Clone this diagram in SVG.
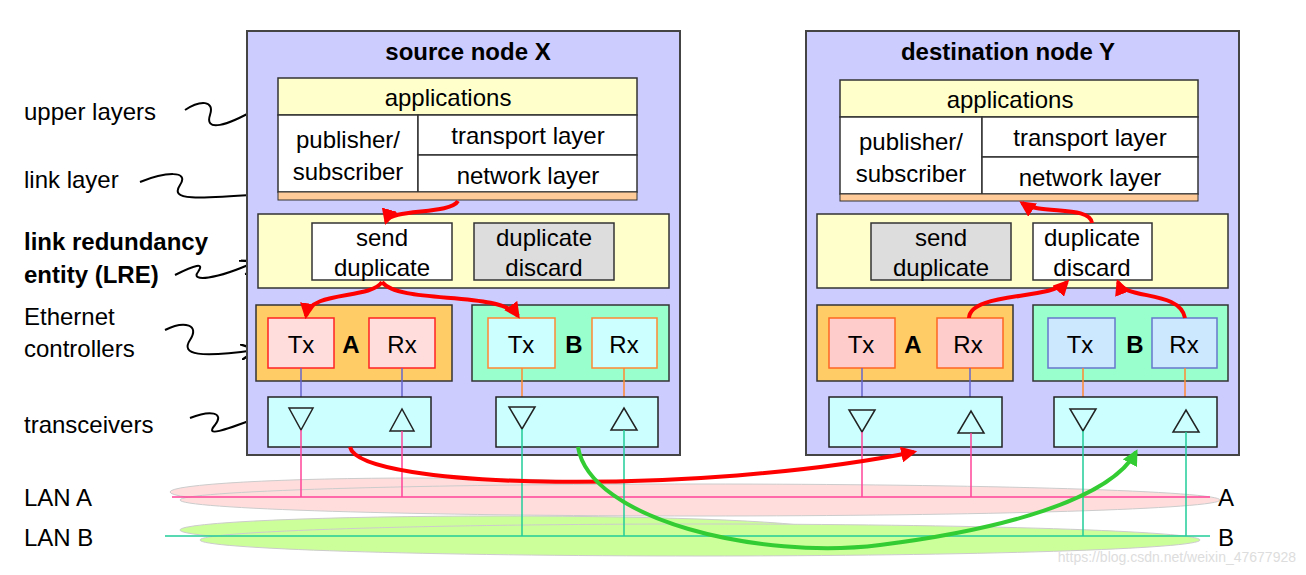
<svg xmlns="http://www.w3.org/2000/svg" width="1306" height="575" viewBox="0 0 1306 575">
<style>
text{font-family:"Liberation Sans",Arial,sans-serif;font-size:24px;fill:#000}
.c{text-anchor:middle}
.b{font-weight:bold}
.node{fill:#ccccff;stroke:#444;stroke-width:2}
.yel{fill:#ffffcc;stroke:#333;stroke-width:1.5}
.wh{fill:#fff;stroke:#333;stroke-width:1.5}
.gr{fill:#dddddd;stroke:#333;stroke-width:1.5}
.org{fill:#ffcc99;stroke:#333;stroke-width:1}
.ca{fill:#ffcc66;stroke:#333;stroke-width:1.5}
.cb{fill:#99ffcc;stroke:#333;stroke-width:1.5}
.tr{fill:#ccffff;stroke:#222;stroke-width:1.5}
.tri{fill:none;stroke:#222;stroke-width:1.5}
.red{fill:none;stroke:#ff0000;stroke-width:4}
.grn{fill:none;stroke:#33cc33;stroke-width:4}
.lbl{fill:none;stroke:#000;stroke-width:2}
</style>
<defs>
<marker id="ar" viewBox="0 0 10 10" refX="8" refY="5" markerWidth="4" markerHeight="4" orient="auto"><path d="M0,0 L10,5 L0,10 z" fill="#ff0000"/></marker>
<marker id="ag" viewBox="0 0 10 10" refX="8" refY="5" markerWidth="4" markerHeight="4" orient="auto"><path d="M0,0 L10,5 L0,10 z" fill="#33cc33"/></marker>
<marker id="ak" viewBox="0 0 10 10" refX="9" refY="5" markerWidth="8" markerHeight="8" orient="auto"><path d="M0,0 L10,5 L0,10" fill="none" stroke="#000" stroke-width="1.5"/></marker>
</defs>
<rect width="1306" height="575" fill="#fff"/>
<!-- clouds -->
<g id="clouds">
<ellipse cx="420" cy="492" rx="250" ry="14" fill="#ffdddd" stroke="#ccc"/>
<ellipse cx="700" cy="500" rx="520" ry="16" fill="#ffdddd" stroke="#ccc"/>
<ellipse cx="500" cy="530" rx="320" ry="14" fill="#ccff99" stroke="#ccc"/>
<ellipse cx="700" cy="540" rx="500" ry="16" fill="#ccff99" stroke="#ccc"/>
</g>
<!-- left labels -->
<g id="labels">
<text x="24" y="120">upper layers</text>
<text x="24" y="188">link layer</text>
<text x="24" y="250" class="b">link redundancy</text>
<text x="24" y="283" class="b">entity (LRE)</text>
<text x="24" y="325">Ethernet</text>
<text x="24" y="357">controllers</text>
<text x="24" y="433">transceivers</text>
<text x="24" y="506">LAN A</text>
<text x="24" y="546">LAN B</text>
<text x="1218" y="506">A</text>
<text x="1218" y="546">B</text>
<path class="lbl" d="M185,110 C200,100 215,100 210,115 C205,130 220,132 275,98" marker-end="url(#ak)"/>
<path class="lbl" d="M140,182 C165,172 190,170 180,185 C170,200 190,200 275,193" marker-end="url(#ak)"/>
<path class="lbl" d="M175,275 C195,265 205,262 198,272 C190,282 215,280 255,262" marker-end="url(#ak)"/>
<path class="lbl" d="M165,330 C185,320 200,325 190,340 C180,355 200,358 255,350" marker-end="url(#ak)"/>
<path class="lbl" d="M190,418 C210,410 225,412 215,425 C205,437 220,432 265,415" marker-end="url(#ak)"/>
</g>
<!-- source node -->
<g id="nodeX">
<rect class="node" x="247" y="31" width="433" height="424"/>
<text x="468" y="60" class="c b">source node X</text>
<rect class="yel" x="278" y="78" width="359" height="37"/>
<text x="448" y="106" class="c">applications</text>
<rect class="wh" x="278" y="115" width="140" height="77"/>
<text x="348" y="148" class="c">publisher/</text>
<text x="348" y="180" class="c">subscriber</text>
<rect class="wh" x="418" y="115" width="219" height="40"/>
<text x="528" y="144" class="c">transport layer</text>
<rect class="wh" x="418" y="155" width="219" height="37"/>
<text x="528" y="184" class="c">network layer</text>
<rect class="org" x="278" y="192" width="359" height="8"/>
<rect class="yel" x="258" y="214" width="411" height="74"/>
<rect class="wh" x="312" y="223" width="140" height="57"/>
<text x="382" y="246" class="c">send</text>
<text x="382" y="276" class="c">duplicate</text>
<rect class="gr" x="474" y="223" width="140" height="57"/>
<text x="544" y="246" class="c">duplicate</text>
<text x="544" y="276" class="c">discard</text>
<rect class="ca" x="256" y="305" width="196" height="76"/>
<rect x="268" y="318" width="66" height="50" fill="#ffdddd" stroke="#ff2222" stroke-width="1.5"/>
<text x="301" y="353" class="c">Tx</text>
<text x="351" y="353" class="c b">A</text>
<rect x="369" y="318" width="66" height="50" fill="#ffdddd" stroke="#ff2222" stroke-width="1.5"/>
<text x="402" y="353" class="c">Rx</text>
<rect class="cb" x="472" y="305" width="197" height="76"/>
<rect x="488" y="318" width="67" height="50" fill="#ccffff" stroke="#ff8833" stroke-width="1.5"/>
<text x="521" y="353" class="c">Tx</text>
<text x="574" y="353" class="c b">B</text>
<rect x="592" y="318" width="65" height="50" fill="#ccffff" stroke="#ff8833" stroke-width="1.5"/>
<text x="624" y="353" class="c">Rx</text>
<line x1="301" y1="368" x2="301" y2="397" stroke="#6666cc" stroke-width="1.5"/>
<line x1="402" y1="368" x2="402" y2="397" stroke="#6666cc" stroke-width="1.5"/>
<line x1="522" y1="368" x2="522" y2="397" stroke="#ff8833" stroke-width="1.5"/>
<line x1="624" y1="368" x2="624" y2="397" stroke="#ff8833" stroke-width="1.5"/>
<rect class="tr" x="268" y="397" width="163" height="50"/>
<path class="tri" d="M289,408 L313,408 L301,430 z"/>
<path class="tri" d="M390,431 L414,431 L402,409 z"/>
<rect class="tr" x="496" y="397" width="162" height="50"/>
<path class="tri" d="M509,407 L535,407 L522,429 z"/>
<path class="tri" d="M611,430 L637,430 L624,408 z"/>
</g>
<!-- destination node -->
<g id="nodeY">
<rect class="node" x="806" y="31" width="433" height="424"/>
<text x="1008" y="60" class="c b">destination node Y</text>
<rect class="yel" x="840" y="80" width="358" height="37"/>
<text x="1010" y="108" class="c">applications</text>
<rect class="wh" x="840" y="117" width="142" height="77"/>
<text x="911" y="150" class="c">publisher/</text>
<text x="911" y="182" class="c">subscriber</text>
<rect class="wh" x="982" y="117" width="216" height="40"/>
<text x="1090" y="146" class="c">transport layer</text>
<rect class="wh" x="982" y="157" width="216" height="37"/>
<text x="1090" y="186" class="c">network layer</text>
<rect class="org" x="840" y="194" width="358" height="7"/>
<rect class="yel" x="817" y="214" width="411" height="74"/>
<rect class="gr" x="871" y="223" width="140" height="57"/>
<text x="941" y="246" class="c">send</text>
<text x="941" y="276" class="c">duplicate</text>
<rect class="wh" x="1033" y="223" width="119" height="57"/>
<text x="1092" y="246" class="c">duplicate</text>
<text x="1092" y="276" class="c">discard</text>
<rect class="ca" x="817" y="305" width="196" height="76"/>
<rect x="829" y="318" width="66" height="50" fill="#ffcccc" stroke="#ff6622" stroke-width="1.5"/>
<text x="861" y="353" class="c">Tx</text>
<text x="913" y="353" class="c b">A</text>
<rect x="937" y="318" width="66" height="50" fill="#ffcccc" stroke="#ff6622" stroke-width="1.5"/>
<text x="968" y="353" class="c">Rx</text>
<rect class="cb" x="1033" y="305" width="195" height="76"/>
<rect x="1048" y="318" width="67" height="50" fill="#cce8ff" stroke="#6677cc" stroke-width="1.5"/>
<text x="1080" y="353" class="c">Tx</text>
<text x="1135" y="353" class="c b">B</text>
<rect x="1152" y="318" width="65" height="50" fill="#cce8ff" stroke="#6677cc" stroke-width="1.5"/>
<text x="1184" y="353" class="c">Rx</text>
<line x1="862" y1="368" x2="862" y2="397" stroke="#6666cc" stroke-width="1.5"/>
<line x1="970" y1="368" x2="970" y2="397" stroke="#6666cc" stroke-width="1.5"/>
<line x1="1083" y1="368" x2="1083" y2="397" stroke="#ff8833" stroke-width="1.5"/>
<line x1="1185" y1="368" x2="1185" y2="397" stroke="#ff8833" stroke-width="1.5"/>
<rect class="tr" x="829" y="397" width="173" height="50"/>
<path class="tri" d="M849,410 L875,410 L862,432 z"/>
<path class="tri" d="M958,433 L984,433 L971,411 z"/>
<rect class="tr" x="1054" y="397" width="163" height="50"/>
<path class="tri" d="M1070,409 L1096,409 L1083,431 z"/>
<path class="tri" d="M1173,432 L1199,432 L1186,410 z"/>
</g>
<!-- connectors -->
<g id="connectors">
<line x1="172" y1="497" x2="1210" y2="497" stroke="#ff4499" stroke-width="1.5"/>
<line x1="165" y1="536" x2="1210" y2="536" stroke="#22cc99" stroke-width="1.5"/>
<g stroke="#ff4499" stroke-width="1.5">
<line x1="301" y1="430" x2="301" y2="497"/><line x1="402" y1="431" x2="402" y2="497"/>
<line x1="862" y1="432" x2="862" y2="497"/><line x1="971" y1="433" x2="971" y2="497"/>
</g>
<g stroke="#22cc99" stroke-width="1.5">
<line x1="522" y1="429" x2="522" y2="536"/><line x1="624" y1="430" x2="624" y2="536"/>
<line x1="1083" y1="431" x2="1083" y2="536"/><line x1="1186" y1="432" x2="1186" y2="536"/>
</g>
<path class="red" d="M458,201 C450,215 390,208 386,222" marker-end="url(#ar)"/>
<path class="red" d="M382,282 C370,300 310,290 306,316" marker-end="url(#ar)"/>
<path class="red" d="M382,282 C400,305 500,290 518,316" marker-end="url(#ar)"/>
<path class="red" d="M350,447 C360,490 700,495 914,452" marker-end="url(#ar)"/>
<path class="grn" d="M578,447 C590,520 760,560 880,545 C1000,530 1110,500 1136,452" marker-end="url(#ag)"/>
<path class="red" d="M969,318 C970,292 1050,300 1067,282" marker-end="url(#ar)"/>
<path class="red" d="M1185,318 C1180,290 1125,300 1118,282" marker-end="url(#ar)"/>
<path class="red" d="M1092,223 C1090,205 1040,215 1022,203" marker-end="url(#ar)"/>
</g>
<text x="1296" y="562" style="font-size:14px;fill:#ddd;text-anchor:end">https://blog.csdn.net/weixin_47677928</text>
</svg>
